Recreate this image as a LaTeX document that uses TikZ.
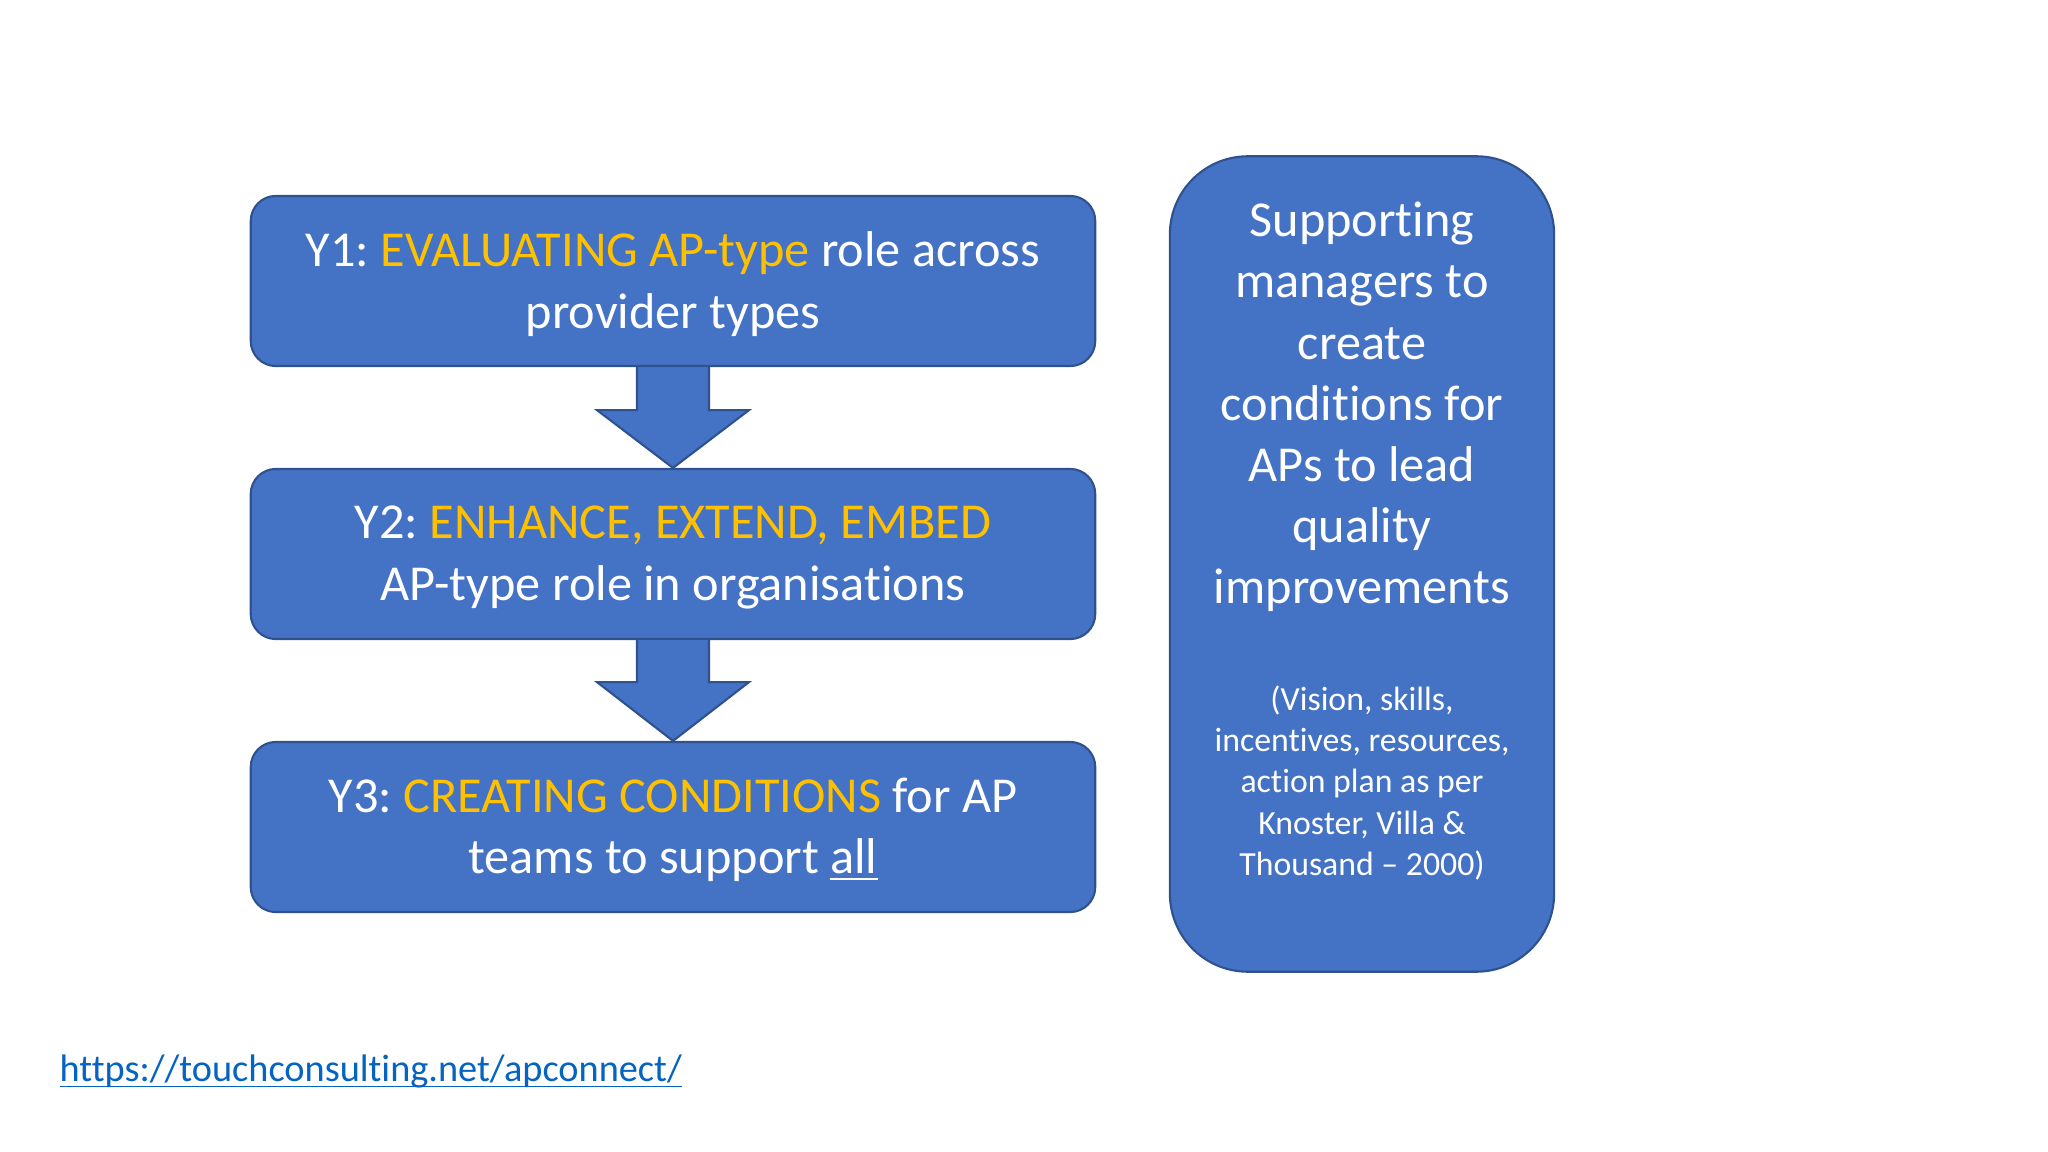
\documentclass[tikz,border=0pt]{standalone}
\usepackage{fontspec}
\setmainfont[Ligatures=NoCommon]{Carlito}
\usetikzlibrary{calc}
\frenchspacing

\definecolor{boxblue}{HTML}{4472C4}
\definecolor{boxedge}{HTML}{2F528F}
\definecolor{gold}{HTML}{FFC000}
\definecolor{linkblue}{HTML}{0563C1}

\newcommand{\lowline}[1]{\underline{\smash{#1}}}

\begin{document}
\begin{tikzpicture}[x=0.01cm, y=-0.01cm,
  stage/.style={draw=boxedge, line width=0.6pt, fill=boxblue, rounded corners=0.25cm,
    minimum width=8.44cm, minimum height=1.70cm, text=white, align=center, text depth=0.5pt,
    font=\fontsize{14.3}{17.4}\selectfont},
  flow/.style={draw=boxedge, line width=0.6pt, fill=boxblue}]

\useasboundingbox (0,0) rectangle (2048,1152);

%\draw[help lines] (0,0) grid[step=100] (2048,1152);

\node [stage] (y1) at (673,281) {Y1: \textcolor{gold}{EVALUATING AP-type} role across\\ provider types};
\node [stage] (y2) at (673,554) {Y2: \textcolor{gold}{ENHANCE, EXTEND, EMBED}\\ AP-type role in organisations};
\node [stage] (y3) at (673,827) {Y3: \textcolor{gold}{CREATING CONDITIONS} for AP\\ teams to support \lowline{all}};

\draw [flow] ($(y1.south)+(-36,0)$) -- ($(y1.south)+(-36,43)$) -- ($(y1.south)+(-76,43)$) -- (y2.north)
  -- ($(y1.south)+(76,43)$) -- ($(y1.south)+(36,43)$) -- ($(y1.south)+(36,0)$);
\draw [flow] ($(y2.south)+(-36,0)$) -- ($(y2.south)+(-36,42)$) -- ($(y2.south)+(-76,42)$) -- (y3.north)
  -- ($(y2.south)+(76,42)$) -- ($(y2.south)+(36,42)$) -- ($(y2.south)+(36,0)$);

\node [draw=boxedge, line width=0.6pt, fill=boxblue, rounded corners=0.78cm,
  minimum width=3.84cm, minimum height=8.15cm] (support) at (1362,564) {};
\node [text=white, align=center, font=\fontsize{14.3}{17.4}\selectfont] (supporthead) at (1362,407)
  {Supporting\\ managers to\\ create\\ conditions for\\ APs to lead\\ quality\\ improvements};
\node [text=white, align=center, font=\fontsize{9.6}{11.7}\selectfont] (supportnote) at (1362,783)
  {(Vision, skills,\\ incentives, resources,\\ action plan as per\\ Knoster, Villa \&\\ Thousand -- 2000)};

\node [anchor=west, inner sep=0pt, text=linkblue, font=\fontsize{10.9}{13}\selectfont] (link) at (59,1085)
  {\lowline{https://touchconsulting.net/apconnect/}};

\end{tikzpicture}
\end{document}
